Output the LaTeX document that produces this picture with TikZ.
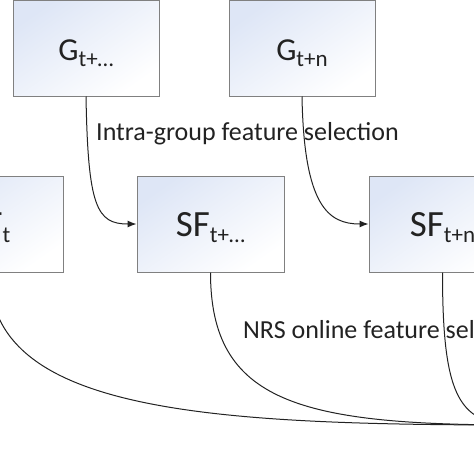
\documentclass[tikz,border=0pt]{standalone}
\usepackage{fontspec}
\setmainfont{Carlito}
\usepackage{tikz}
\usetikzlibrary{positioning,arrows.meta}

\definecolor{boxblue}{RGB}{222,230,246}
\definecolor{boxedge}{RGB}{128,128,128}
\definecolor{ink}{RGB}{34,34,34}

\newcommand{\boxlbl}[3][32]{{\fontsize{#1}{#1}\selectfont #2}\raisebox{-6pt}{\fontsize{23}{23}\selectfont #3}}

\begin{document}
\begin{tikzpicture}[
    x=1pt, y=-1pt,
    box/.style={draw=boxedge, line width=1pt, minimum width=146pt, minimum height=96pt, inner sep=0pt,
      text height=24pt, text depth=0pt,
      top color=boxblue, bottom color=white, shading angle=35, text=ink},
    arr/.style={-{Latex[length=9pt,width=7pt]}, line width=1pt, draw=ink},
    conn/.style={line width=1pt, draw=ink},
    lbl/.style={anchor=base west, inner sep=0pt, font=\fontsize{26}{26}\selectfont, text=ink}
  ]
    \clip (0,0) rectangle (474,474);
    % group boxes
    \node[box] (gmid) at (86,48) {\boxlbl{G}{t+\ldots}};
    \node[box, right=69pt of gmid] (gn) {\boxlbl{G}{t+n}};
    % selected feature boxes
    \node[box, minimum width=147pt] (sft) at (-10.5,224) {\boxlbl[37]{SF}{t}};
    \node[box, minimum width=147pt, right=73pt of sft] (sfmid) {\boxlbl[37]{SF}{t+\ldots}};
    \node[box, minimum width=147pt, right=84pt of sfmid] (sfn) {\boxlbl[37]{SF}{t+n}};
    \coordinate (merge) at (520,425);
    % labels
    \node[lbl] (intra) at (96,140) {Intra-group feature selection};
    \node[lbl] (nrs) at (243,338) {NRS online feature selection};
    % connectors
    \draw[arr] (gmid.south) .. controls +(2,110) and +(-40,0) .. (sfmid.west);
    \draw[arr] (gn.south) .. controls +(2,110) and +(-40,0) .. (sfn.west);
    \draw[conn] (sft.south) .. controls +(0,138) and +(-320,0) .. (merge);
    \draw[conn] (sfmid.south) .. controls +(0,130) and +(-220,0) .. (merge);
    \draw[conn] (sfn.south) .. controls +(0,128) and +(-60,0) .. (merge);
\end{tikzpicture}
\end{document}
